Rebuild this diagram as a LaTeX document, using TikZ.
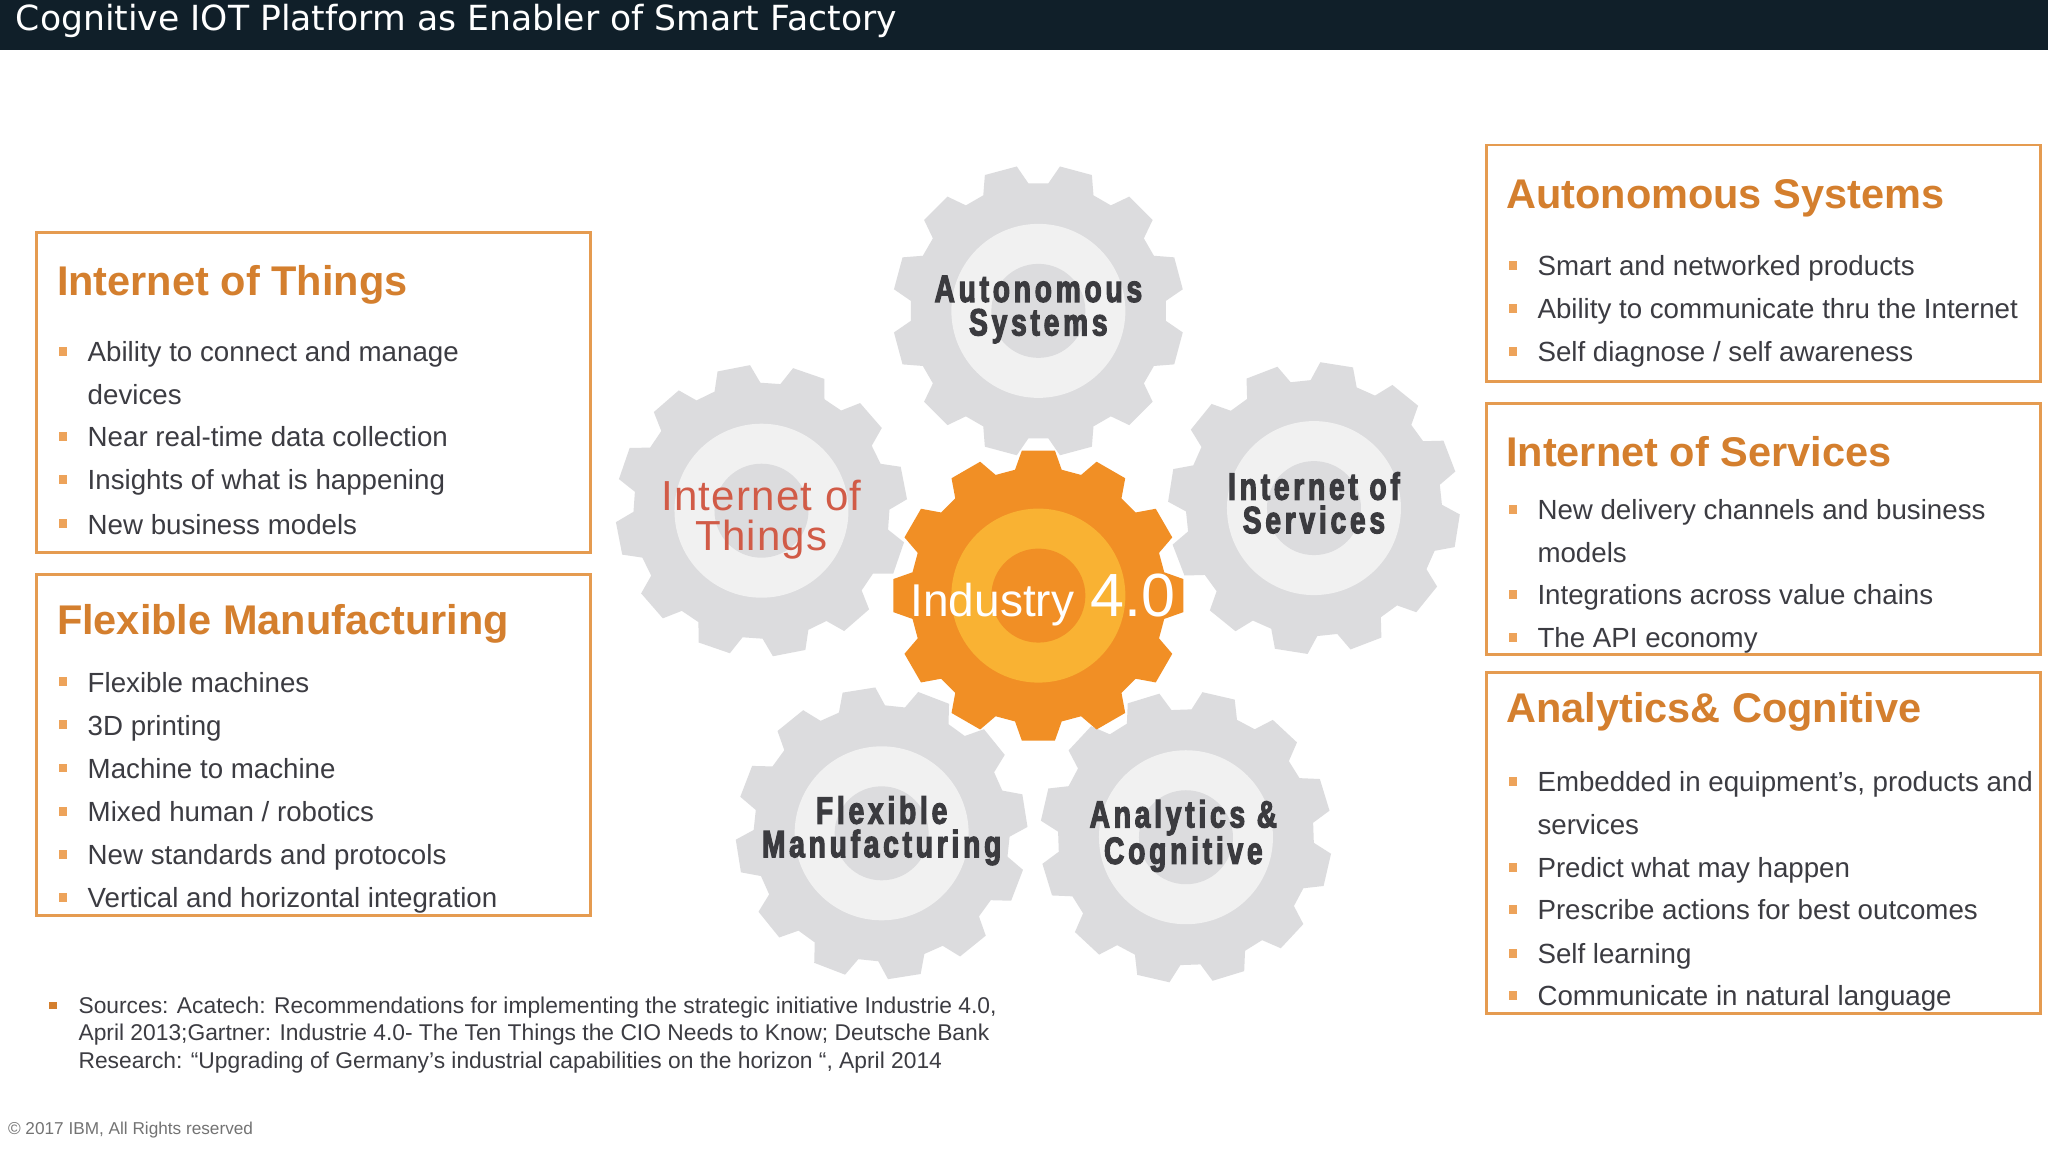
\documentclass[tikz,border=0pt]{standalone}
\usepackage{fontspec}
\setmainfont{Liberation Sans}
\newfontfamily\titlefont{DejaVu Sans}
\newfontfamily\gearfont[FakeStretch=0.74,LetterSpace=10,FakeBold=3]{Liberation Sans Bold}
\newfontfamily\gearthin[LetterSpace=3]{Liberation Sans}
\definecolor{barcol}{HTML}{101F29}
\definecolor{boxline}{HTML}{E59B50}
\definecolor{headcol}{HTML}{D47F2E}
\definecolor{bodycol}{HTML}{3C3C42}
\definecolor{bulcol}{HTML}{EDA35A}
\definecolor{geargray}{HTML}{DCDCDE}
\definecolor{gearlight}{HTML}{F1F1F1}
\definecolor{gearorange}{HTML}{F18F25}
\definecolor{gearyellow}{HTML}{F9B233}
\definecolor{gearred}{HTML}{D15B47}
\definecolor{geartext}{HTML}{3B3B3F}
\tikzset{
 infobox/.style={draw=boxline,line width=2.8pt,fill=none},
 headtext/.style={anchor=base west,inner sep=0pt,text=headcol,font=\fontsize{41.5}{44}\selectfont\bfseries},
 bodytext/.style={anchor=base west,inner sep=0pt,text=bodycol,font=\fontsize{27.7}{30}\selectfont},
 srctext/.style={anchor=base west,inner sep=0pt,text=bodycol,font=\fontsize{22.8}{25}\selectfont},
 geartitle/.style={align=center,inner sep=0pt,text=geartext,font=\fontsize{38}{33.5}\selectfont\gearfont},
}
% gear: centre name, x, y, rotation, body, ring, hub
\newcommand{\gearshape}[7]{%
 \begin{scope}[shift={(#2,#3)}]
 \fill[#5] ({#4-10.5}:128pt)
   \foreach \k in {0,...,11}{ -- ({#4+\k*30-10.5}:128pt) -- ({#4+\k*30-6.5}:146pt) -- ({#4+\k*30+6.5}:146pt) -- ({#4+\k*30+10.5}:128pt)} -- cycle;
 \fill[#6] (0,0) circle[radius=87pt];
 \fill[#7] (0,0) circle[radius=47pt];
 \end{scope}}
% bullet item: name, x, baseline y, text
\newcommand{\bulitem}[4]{%
 \fill[bulcol] (#2-3,#3-11.4) rectangle (#2+3.6,#3-4.6);
 \node[bodytext] (#1) at (#2+19,#3) {#4};}
\begin{document}
\begin{tikzpicture}[x=1.30612pt,y=-1.30612pt]
\useasboundingbox (0,0) rectangle (1568,882);
\fill[white] (0,0) rectangle (1568,882);
\fill[barcol] (0,0) rectangle (1568,38.5);
\node[anchor=base west,inner sep=0pt,text=white,font=\fontsize{34.6}{36}\selectfont\titlefont] (title) at (12,23) {Cognitive IOT Platform as Enabler of Smart Factory};

% gears
\gearshape{auto}{795}{238}{15}{geargray}{gearlight}{geargray}
\gearshape{iot}{583}{391}{11}{geargray}{gearlight}{geargray}
\gearshape{ios}{1006}{389}{21}{geargray}{gearlight}{geargray}
\gearshape{flex}{675}{638}{9}{geargray}{gearlight}{geargray}
\gearshape{ana}{908}{641}{17}{geargray}{gearlight}{geargray}
\gearshape{ind}{795}{456}{0}{gearorange}{gearyellow}{gearorange}

\node[geartitle] (lauto) at (795,237) {Autonomous\\Systems};
\node[align=center,inner sep=0pt,text=gearred,font=\fontsize{42}{40}\selectfont\gearthin] (liot) at (583,398) {Internet of\\Things};
\node[geartitle] (lios) at (1006,385) {Internet of\\Services};
\node[geartitle] (lflex) at (675,636) {Flexible\\Manufacturing};
\node[geartitle] (lana) at (906,640) {Analytics \&\\Cognitive};
\node[anchor=base west,inner sep=0pt,text=white,font=\fontsize{46}{48}\selectfont] (lind) at (697,472) {Industry};
\node[anchor=base west,inner sep=0pt,text=white,font=\fontsize{61}{62}\selectfont] (lfour) at (835,472) {4.0};

% boxes
\draw[infobox] (28,178) rectangle (452,423);
\draw[infobox] (28,440) rectangle (452,701);
\draw[infobox] (1138,111) rectangle (1562,292);
\draw[infobox] (1138,309) rectangle (1562,501);
\draw[infobox] (1138,515) rectangle (1562,776);

% internet of things
\node[headtext] (h1) at (43.5,226) {Internet of Things};
\bulitem{a1}{48}{277}{Ability to connect and manage}
\node[bodytext] (a1b) at (67,310) {devices};
\bulitem{a2}{48}{342}{Near real-time data collection}
\bulitem{a3}{48}{375}{Insights of what is happening}
\bulitem{a4}{48}{409}{New business models}

% flexible manufacturing
\node[headtext] (h2) at (43.5,486) {Flexible Manufacturing};
\bulitem{b1}{48}{530}{Flexible machines}
\bulitem{b2}{48}{563}{3D printing}
\bulitem{b3}{48}{596}{Machine to machine}
\bulitem{b4}{48}{629}{Mixed human / robotics}
\bulitem{b5}{48}{662}{New standards and protocols}
\bulitem{b6}{48}{695}{Vertical and horizontal integration}

% autonomous systems
\node[headtext] (h3) at (1153,160) {Autonomous Systems};
\bulitem{c1}{1158}{211}{Smart and networked products}
\bulitem{c2}{1158}{244}{Ability to communicate thru the Internet}
\bulitem{c3}{1158}{277}{Self diagnose / self awareness}

% internet of services
\node[headtext] (h4) at (1153,357) {Internet of Services};
\bulitem{d1}{1158}{398}{New delivery channels and business}
\node[bodytext] (d1b) at (1177,431) {models};
\bulitem{d2}{1158}{463}{Integrations across value chains}
\bulitem{d3}{1158}{496}{The API economy}

% analytics
\node[headtext] (h5) at (1153,553) {Analytics\& Cognitive};
\bulitem{e1}{1158}{606}{Embedded in equipment's, products and}
\node[bodytext] (e1b) at (1177,639) {services};
\bulitem{e2}{1158}{672}{Predict what may happen}
\bulitem{e3}{1158}{704}{Prescribe actions for best outcomes}
\bulitem{e4}{1158}{738}{Self learning}
\bulitem{e5}{1158}{770}{Communicate in natural language}

% sources
\fill[headcol] (37.5,767) rectangle (43.5,772.6);
\node[srctext] (s1) at (60,776) {Sources: Acatech: Recommendations for implementing the strategic initiative Industrie 4.0,};
\node[srctext] (s2) at (60,797) {April 2013;Gartner: Industrie 4.0- The Ten Things the CIO Needs to Know; Deutsche Bank};
\node[srctext] (s3) at (60,818) {Research: “Upgrading of Germany’s industrial capabilities on the horizon “, April 2014};
\node[anchor=base west,inner sep=0pt,text=black!55,font=\fontsize{17.2}{19}\selectfont] (copy) at (6,868.5) {© 2017 IBM, All Rights reserved};
\end{tikzpicture}
\end{document}
